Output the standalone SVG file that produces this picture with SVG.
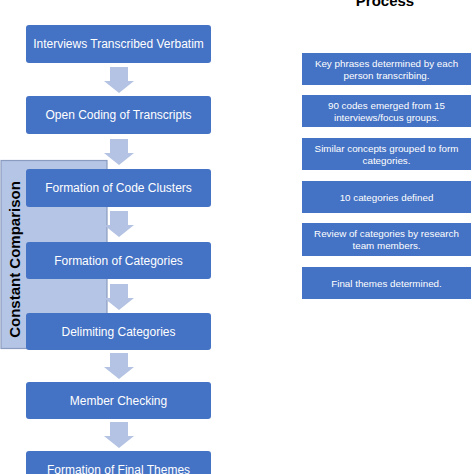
<svg xmlns="http://www.w3.org/2000/svg" width="474" height="474" viewBox="0 0 474 474">
<defs>
<style>
.box{fill:#4472c4;}
.rbox{fill:#4472c4;}
.arr{fill:#b4c3e3;}
.t{font-family:"Liberation Sans",Arial,sans-serif;font-size:12px;fill:#ffffff;text-anchor:middle;}
.rt{font-family:"Liberation Sans",Arial,sans-serif;font-size:9.8px;fill:#ffffff;text-anchor:middle;}
.h{font-family:"Liberation Sans",Arial,sans-serif;font-size:15px;font-weight:bold;fill:#000000;text-anchor:middle;}
</style>
<path id="down" d="M6,0 H24 V14 H30 L15,26 L0,14 H6 Z"/>
</defs>
<rect width="474" height="474" fill="#ffffff"/>
<text class="h" x="385" y="6">Process</text>

<g id="panel">
<rect x="1" y="160.5" width="106" height="188" fill="#b4c5e6" stroke="#8a9cc0" stroke-width="1.2"/>
<text class="h" transform="translate(20,259.5) rotate(-90)">Constant Comparison</text>
</g>

<g id="connectors">
<use href="#down" class="arr" x="104" y="67"/>
<use href="#down" class="arr" x="104" y="139"/>
<use href="#down" class="arr" x="104" y="211"/>
<use href="#down" class="arr" x="104" y="284"/>
<use href="#down" class="arr" x="104" y="353"/>
<use href="#down" class="arr" x="104" y="422"/>
</g>

<g id="n1"><rect class="box" x="26" y="25" width="185" height="38" rx="3"/><text class="t" x="118.5" y="48">Interviews Transcribed Verbatim</text></g>
<g id="n2"><rect class="box" x="26" y="96" width="185" height="38" rx="3"/><text class="t" x="118.5" y="119">Open Coding of Transcripts</text></g>
<g id="n3"><rect class="box" x="26" y="169" width="185" height="38" rx="3"/><text class="t" x="118.5" y="192">Formation of Code Clusters</text></g>
<g id="n4"><rect class="box" x="26" y="242" width="185" height="37" rx="3"/><text class="t" x="118.5" y="265">Formation of Categories</text></g>
<g id="n5"><rect class="box" x="26" y="313" width="185" height="37" rx="3"/><text class="t" x="118.5" y="336">Delimiting Categories</text></g>
<g id="n6"><rect class="box" x="26" y="382" width="185" height="37" rx="3"/><text class="t" x="118.5" y="405">Member Checking</text></g>
<g id="n7"><rect class="box" x="26" y="451" width="185" height="38" rx="3"/><text class="t" x="118.5" y="474">Formation of Final Themes</text></g>

<g id="r1"><rect class="rbox" x="302" y="53" width="169" height="32"/><text class="rt" x="386.5" y="67">Key phrases determined by each</text><text class="rt" x="386.5" y="79">person transcribing.</text></g>
<g id="r2"><rect class="rbox" x="302" y="95" width="169" height="32"/><text class="rt" x="386.5" y="109">90 codes emerged from 15</text><text class="rt" x="386.5" y="121">interviews/focus groups.</text></g>
<g id="r3"><rect class="rbox" x="302" y="138" width="169" height="32"/><text class="rt" x="386.5" y="152">Similar concepts grouped to form</text><text class="rt" x="386.5" y="164">categories.</text></g>
<g id="r4"><rect class="rbox" x="302" y="181" width="169" height="32"/><text class="rt" x="386.5" y="200.5">10 categories defined</text></g>
<g id="r5"><rect class="rbox" x="302" y="223" width="169" height="33"/><text class="rt" x="386.5" y="237">Review of categories by research</text><text class="rt" x="386.5" y="249">team members.</text></g>
<g id="r6"><rect class="rbox" x="302" y="267" width="169" height="32"/><text class="rt" x="386.5" y="286.5">Final themes determined.</text></g>
</svg>
